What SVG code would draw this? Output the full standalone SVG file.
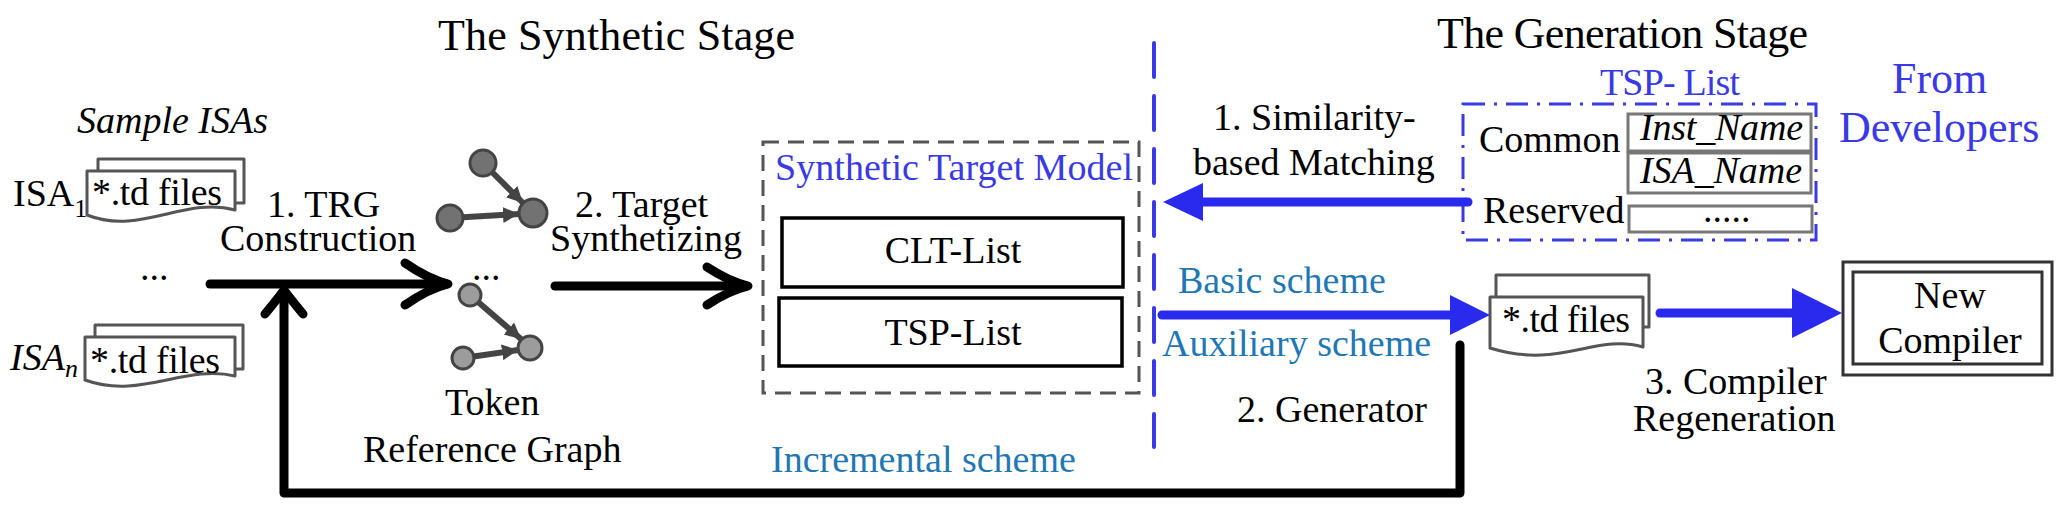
<svg xmlns="http://www.w3.org/2000/svg" width="2058" height="512" viewBox="0 0 2058 512">
<style>
text{font-family:"Liberation Serif","Times New Roman",serif;font-size:38px;fill:#000}
.title{font-size:44px}
.it{font-style:italic}
.blue{fill:#3a3ae4}
.steel{fill:#1f77b4}
.doc{fill:#fff;stroke:#555;stroke-width:3;stroke-linejoin:round}
.blk{fill:none;stroke:#000;stroke-width:9;stroke-linecap:round;stroke-linejoin:round}
.bline{fill:none;stroke:#2a2aee;stroke-width:9;stroke-linecap:round}
.bhead{fill:#2a2aee}
.gl{stroke:#444;stroke-width:6}
.n1{fill:#727272;stroke:#444;stroke-width:3}
.n2{fill:#9c9c9c;stroke:#444;stroke-width:3}
.gbox{fill:#fff;stroke:#777;stroke-width:3}
</style>
<defs>
<marker id="gh" markerWidth="18" markerHeight="18" refX="16" refY="8" orient="auto" markerUnits="userSpaceOnUse">
<path d="M0,0 L16,8 L0,16 Z" fill="#444"/>
</marker>
</defs>
<rect width="2058" height="512" fill="#fff"/>

<!-- titles -->
<text class="title" x="438" y="50" textLength="357">The Synthetic Stage</text>
<text class="title" x="1437" y="48" textLength="371">The Generation Stage</text>

<!-- stage divider -->
<line x1="1154" y1="43" x2="1154" y2="447" stroke="#3a3ae4" stroke-width="4" stroke-dasharray="34 19" stroke-linecap="round"/>

<!-- Sample ISAs -->
<g id="sample-isas">
<text class="it" x="77" y="133">Sample ISAs</text>
<text x="13" y="206">ISA<tspan font-size="26" dy="11">1</tspan></text>
<path class="doc" d="M98,171 V159 H244 V203 H235"/>
<path class="doc" d="M87,171 H235 V210 C185,196 140,236 87,215 Z"/>
<text x="92" y="205" textLength="130">*.td files</text>
<text x="140" y="280">...</text>
<text class="it" x="10" y="370">ISA<tspan font-size="26" dy="7">n</tspan></text>
<path class="doc" d="M95,337 V325 H243 V369 H235"/>
<path class="doc" d="M85,337 H235 V376 C185,364 140,400 85,380 Z"/>
<text x="90" y="373" textLength="130">*.td files</text>
</g>

<!-- Token Reference Graph -->
<g id="token-reference-graph">
<line class="gl" x1="483" y1="163" x2="523" y2="203" marker-end="url(#gh)"/>
<line class="gl" x1="450" y1="218" x2="519" y2="214" marker-end="url(#gh)"/>
<circle class="n1" cx="483" cy="163" r="13"/>
<circle class="n1" cx="450" cy="218" r="13"/>
<circle class="n1" cx="533" cy="213" r="14"/>
<text x="472" y="280">...</text>
<line class="gl" x1="470" y1="295" x2="521" y2="339" marker-end="url(#gh)"/>
<line class="gl" x1="463" y1="358" x2="518" y2="350" marker-end="url(#gh)"/>
<circle class="n2" cx="470" cy="295" r="11"/>
<circle class="n2" cx="463" cy="358" r="11"/>
<circle class="n2" cx="530" cy="348" r="12"/>
<text x="445" y="415">Token</text>
<text x="363" y="462">Reference Graph</text>
</g>

<!-- Synthetic Target Model -->
<g id="synthetic-target-model">
<rect x="763" y="142" width="376" height="251" fill="none" stroke="#555" stroke-width="3" stroke-dasharray="16 9"/>
<text class="blue" x="775" y="180" textLength="358">Synthetic Target Model</text>
<rect x="782" y="218" width="341" height="69" fill="#fff" stroke="#000" stroke-width="3.5"/>
<text x="953" y="263" text-anchor="middle">CLT-List</text>
<rect x="779" y="298" width="343" height="68" fill="#fff" stroke="#000" stroke-width="3.5"/>
<text x="953" y="345" text-anchor="middle">TSP-List</text>
</g>

<!-- TSP- List (from developers) -->
<g id="tsp-list-input">
<text class="blue" x="1600" y="95" textLength="140">TSP- List</text>
<rect x="1463" y="104" width="353" height="136" fill="none" stroke="#3a3ae4" stroke-width="3" stroke-dasharray="22 9 3 9"/>
<text x="1479" y="152">Common</text>
<text x="1483" y="223">Reserved</text>
<rect class="gbox" x="1628" y="114" width="183" height="37"/>
<text class="it" x="1640" y="140" textLength="163">Inst_Name</text>
<rect class="gbox" x="1628" y="153" width="183" height="40"/>
<text class="it" x="1640" y="183" textLength="162">ISA_Name</text>
<rect class="gbox" x="1629" y="206" width="183" height="26"/>
<text x="1703" y="222">.....</text>
</g>

<g id="from-developers">
<text class="blue title" x="1892" y="93">From</text>
<text class="blue title" x="1839" y="142">Developers</text>
</g>

<!-- generated td files -->
<g id="generated-td-files">
<path class="doc" d="M1496,297 V275 H1649 V327 H1643"/>
<path class="doc" d="M1490,297 H1643 V347 C1595,333 1560,370 1490,348 Z"/>
<text x="1502" y="332" textLength="128">*.td files</text>
</g>

<!-- New Compiler -->
<g id="new-compiler">
<rect x="1843" y="262" width="209" height="113" fill="#fff" stroke="#333" stroke-width="3"/>
<rect x="1853" y="272" width="189" height="92" fill="#fff" stroke="#333" stroke-width="3"/>
<text x="1950" y="308" text-anchor="middle">New</text>
<text x="1950" y="353" text-anchor="middle">Compiler</text>
</g>

<!-- connectors -->
<g id="connectors">
<!-- 1. TRG construction -->
<line class="blk" x1="210" y1="284" x2="446" y2="284"/>
<path class="blk" d="M405,263 Q428,279 448,284 Q428,289 405,305"/>
<text x="267" y="217">1. TRG</text>
<text x="220" y="251">Construction</text>
<!-- 2. Target synthetizing -->
<line class="blk" x1="555" y1="286" x2="746" y2="286"/>
<path class="blk" d="M707,267 Q728,281 748,286 Q728,291 707,305"/>
<text x="575" y="217">2. Target</text>
<text x="550" y="251">Synthetizing</text>
<!-- 1. Similarity-based matching -->
<line class="bline" x1="1468" y1="202" x2="1200" y2="202"/>
<polygon class="bhead" points="1163,202 1203,183 1203,221"/>
<text x="1213" y="130">1. Similarity-</text>
<text x="1193" y="175">based Matching</text>
<!-- 2. Generator: basic scheme -->
<line class="bline" x1="1162" y1="315" x2="1453" y2="315"/>
<polygon class="bhead" points="1490,315 1450,295 1450,335"/>
<text class="steel" x="1178" y="293">Basic scheme</text>
<text class="steel" x="1162" y="356">Auxiliary scheme</text>
<text x="1237" y="422">2. Generator</text>
<!-- incremental scheme loop -->
<polyline class="blk" points="1460,345 1460,493 284,493 284,292"/>
<path class="blk" d="M265,314 Q279,297 284,290 Q289,297 303,314"/>
<text class="steel" x="771" y="472">Incremental scheme</text>
<!-- 3. Compiler regeneration -->
<line class="bline" x1="1660" y1="313" x2="1795" y2="313"/>
<polygon class="bhead" points="1842,313 1792,288 1792,338"/>
<text x="1645" y="394">3. Compiler</text>
<text x="1633" y="431">Regeneration</text>
</g>
</svg>
